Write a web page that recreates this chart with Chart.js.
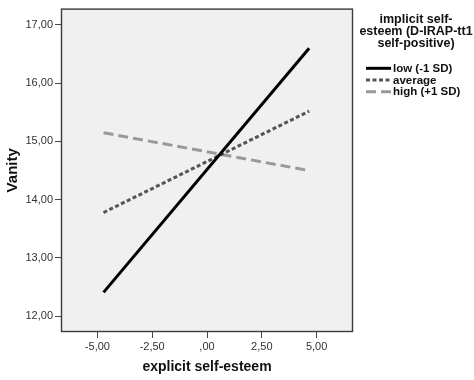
<!DOCTYPE html>
<html>
<head>
<meta charset="utf-8">
<script src="https://cdn.jsdelivr.net/npm/chart.js@4"></script>
<style>
html,body{margin:0;padding:0;background:#fff;}
#wrap{width:474px;height:380px;}
</style>
</head>
<body>
<div id="wrap"><canvas id="c" width="474" height="380"></canvas></div>
<script>
// simple slopes: Vanity ~ explicit self-esteem, by implicit self-esteem level
const xEnds = [-4.72, 4.66];
const lowSD = [12.41, 16.60];
const average = [13.78, 15.52];
const highSD = [15.15, 14.50];

const seriesNames = ["low (-1 SD)", "average", "high (+1 SD)"];
const legendTitle = ["implicit self-", "esteem (D-IRAP-tt1", "self-positive)"];

const xTicks = [-5, -2.5, 0, 2.5, 5];
const xTickLabels = ["-5,00", "-2,50", ",00", "2,50", "5,00"];
const yTicks = [12, 13, 14, 15, 16, 17];
const yTickLabels = ["12,00", "13,00", "14,00", "15,00", "16,00", "17,00"];

const FONT = "'Liberation Sans', Arial, sans-serif";

function pts(ys){ return xEnds.map(function(x,i){ return {x:x, y:ys[i]}; }); }

// grey plot background + full frame
const frame = {
  id: "frame",
  beforeDatasetsDraw: function(chart){
    const a = chart.chartArea, ctx = chart.ctx;
    ctx.save();
    ctx.fillStyle = "#f0f0f0";
    ctx.fillRect(a.left, a.top, a.right - a.left, a.bottom - a.top);
    ctx.restore();
  },
  afterDatasetsDraw: function(chart){
    const a = chart.chartArea, ctx = chart.ctx;
    ctx.save();
    ctx.strokeStyle = "#3a3a3a";
    ctx.lineWidth = 1.4;
    ctx.strokeRect(a.left + 0.5, a.top + 0.5, a.right - a.left - 1, a.bottom - a.top - 1);
    ctx.restore();
  }
};

// SPSS-like legend to the right of the plot
const sideLegend = {
  id: "sideLegend",
  afterDraw: function(chart){
    const ctx = chart.ctx;
    ctx.save();
    ctx.fillStyle = "#111";
    ctx.textAlign = "center";
    ctx.textBaseline = "middle";
    ctx.font = "bold 12.5px " + FONT;
    legendTitle.forEach(function(t,i){ ctx.fillText(t, 416, 20 + i * 11.7); });
    ctx.textAlign = "left";
    ctx.font = "bold 11.5px " + FONT;
    chart.data.datasets.forEach(function(ds,i){
      const y = 68.3 + i * 11.7;
      ctx.strokeStyle = ds.borderColor;
      ctx.lineWidth = ds.borderWidth;
      ctx.setLineDash(ds.borderDash || []);
      ctx.beginPath(); ctx.moveTo(366, y); ctx.lineTo(391, y); ctx.stroke();
      ctx.setLineDash([]);
      ctx.fillStyle = "#111";
      ctx.fillText(ds.label, 393, y + 0.5);
    });
    ctx.restore();
  }
};

new Chart(document.getElementById("c"), {
  type: "scatter",
  data: {
    datasets: [
      {label: seriesNames[0], data: pts(lowSD), showLine: true, borderColor: "#000", borderWidth: 3, pointRadius: 0},
      {label: seriesNames[1], data: pts(average), showLine: true, borderColor: "#555", borderWidth: 3, borderDash: [4, 2.5], pointRadius: 0},
      {label: seriesNames[2], data: pts(highSD), showLine: true, borderColor: "#999", borderWidth: 3, borderDash: [10, 5], pointRadius: 0}
    ]
  },
  options: {
    responsive: false, animation: false, events: [],
    layout: {padding: {left: 0, top: 7, right: 121, bottom: 0}},
    plugins: {legend: {display: false}, tooltip: {enabled: false}},
    scales: {
      x: {
        type: "linear", min: -6.66, max: 6.66,
        afterBuildTicks: function(s){ s.ticks = xTicks.map(function(v){ return {value:v}; }); },
        afterFit: function(s){ s.height = 48; },
        ticks: {color: "#333", font: {family: FONT, size: 11}, padding: 2, maxRotation: 0,
          callback: function(v, i){ return xTickLabels[i]; }},
        grid: {drawOnChartArea: false, drawTicks: true, tickLength: 6, color: "#444"},
        border: {display: false},
        title: {display: true, text: "explicit self-esteem", color: "#111", font: {family: FONT, size: 14, weight: "bold"}}
      },
      y: {
        type: "linear", min: 11.73, max: 17.28,
        afterBuildTicks: function(s){ s.ticks = yTicks.map(function(v){ return {value:v}; }); },
        afterFit: function(s){ s.width = 61; },
        ticks: {color: "#333", font: {family: FONT, size: 11}, padding: 2,
          callback: function(v, i){ return yTickLabels[i]; }},
        grid: {drawOnChartArea: false, drawTicks: true, tickLength: 6, color: "#444"},
        border: {display: false},
        title: {display: true, text: "Vanity", color: "#111", padding: {top: 4, bottom: 4}, font: {family: FONT, size: 15, weight: "bold"}}
      }
    }
  },
  plugins: [frame, sideLegend]
});
</script>
</body>
</html>
